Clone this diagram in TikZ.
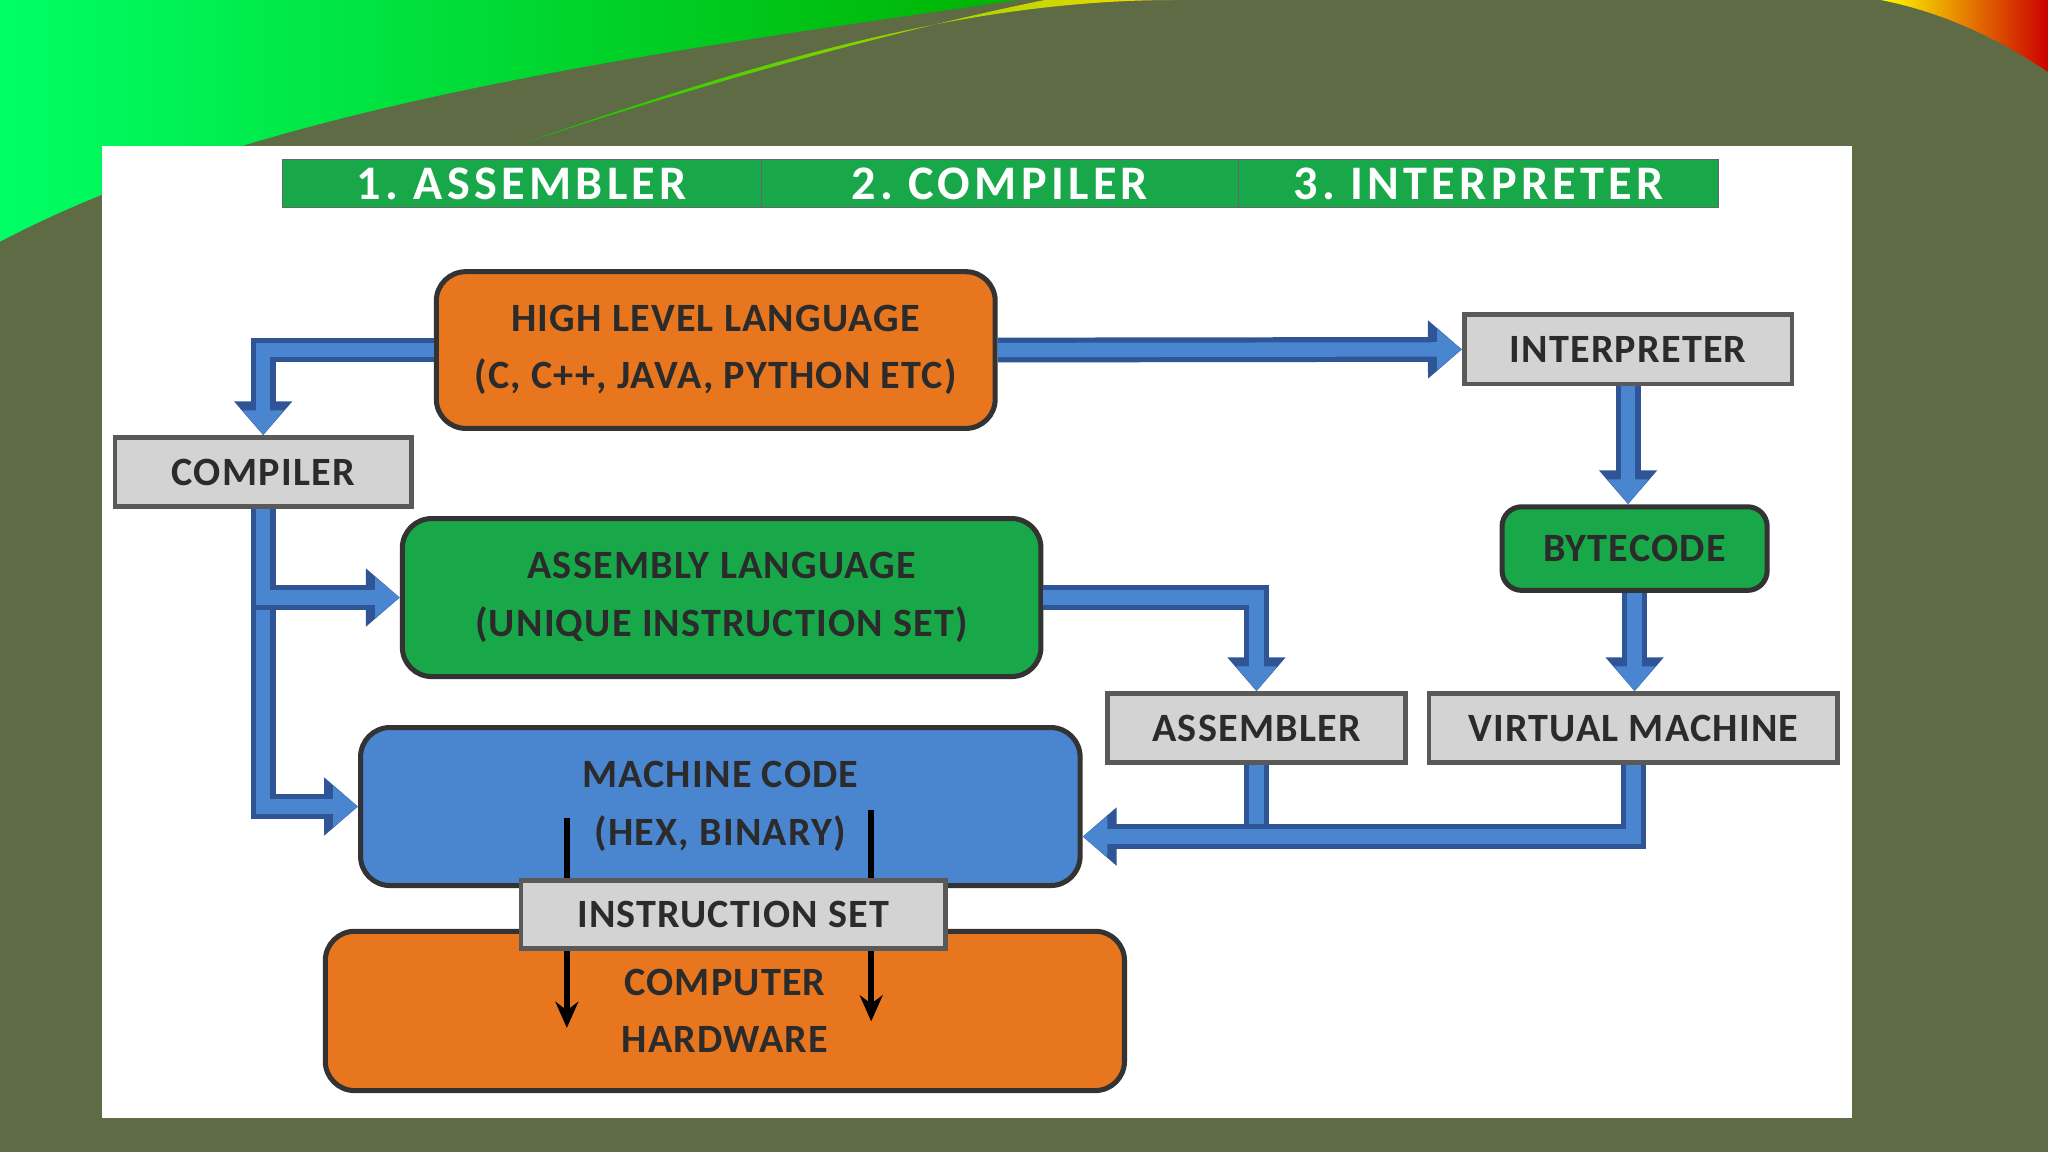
\documentclass[tikz,border=0pt]{standalone}
\usepackage{fontspec}
\setmainfont{Carlito}
\usetikzlibrary{arrows.meta,calc}
\definecolor{bg}{HTML}{5E6B45}
\definecolor{hgreen}{HTML}{18A84A}
\definecolor{orng}{HTML}{E8761F}
\definecolor{bblue}{HTML}{4A86D0}
\definecolor{darkb}{HTML}{2F5597}
\definecolor{gbox}{HTML}{D3D3D3}
\definecolor{txt}{HTML}{2B2B2B}
\tikzset{
  box/.style={draw=black!80,line width=2.2pt,rounded corners=0.45cm,text=txt,align=center,font=\fontsize{17.5}{25}\selectfont\bfseries\addfontfeature{LetterSpace=3}},
  gray/.style={draw=black!65,line width=2pt,fill=gbox,text=txt,font=\fontsize{17.5}{20}\selectfont\bfseries\addfontfeature{LetterSpace=3}},
  outer/.style={draw=darkb,line width=0.38cm,-{Triangle[width=0.86cm,length=0.52cm]}},
  inner/.style={draw=bblue,line width=0.22cm,-{Triangle[width=0.6cm,length=0.38cm]}},
  thin/.style={draw=black,line width=2.4pt,-{Stealth[width=0.35cm,length=0.4cm]}},
  hdr/.style={text=white,font=\fontsize{21}{21}\selectfont\bfseries\addfontfeature{LetterSpace=9}}
}
\newcommand{\blockarrow}[1]{\draw[outer] #1; \draw[inner] #1;}
\begin{document}
\begin{tikzpicture}[x=0.02cm,y=-0.02cm]
\useasboundingbox (0,0) rectangle (1568,882);
\fill[bg] (0,0) rectangle (1568,882);
% top decoration
\shade[left color=green!60!cyan, right color=green!70!black] (0,0) -- (780,0) .. controls (500,40) and (200,80) .. (0,185) -- cycle;
\shade[left color=green!80!black, right color=yellow!70!orange] (400,110) .. controls (600,40) and (750,0) .. (900,0) -- (800,0) .. controls (700,20) and (550,60) .. cycle;
\shade[left color=yellow, right color=red!80!black] (1440,0) -- (1568,0) -- (1568,55) .. controls (1530,30) and (1490,10) .. (1440,0) -- cycle;
% panel
\fill[white] (78,112) rectangle (1418,856);
% header
\node[draw=black!60,fill=hgreen,minimum width=7.34cm,minimum height=0.74cm,hdr,inner sep=0] (h1) at (399.5,140.5) {1.\ ASSEMBLER};
\node[draw=black!60,fill=hgreen,minimum width=7.3cm,minimum height=0.74cm,hdr,inner sep=0] (h2) at (765.5,140.5) {2.\ COMPILER};
\node[draw=black!60,fill=hgreen,minimum width=7.36cm,minimum height=0.74cm,hdr,inner sep=0] (h3) at (1132,140.5) {3.\ INTERPRETER};
% nodes
\node[box,fill=orng,minimum width=8.56cm,minimum height=2.4cm] (hll) at (548,268) {HIGH LEVEL LANGUAGE\\(C, C++, JAVA, PYTHON ETC)};
\node[gray,minimum width=5.02cm,minimum height=1.06cm] (interp) at (1246.5,267.5) {INTERPRETER};
\node[gray,minimum width=4.54cm,minimum height=1.06cm] (comp) at (201.5,361.5) {COMPILER};
\node[box,fill=hgreen,minimum width=9.78cm,minimum height=2.42cm] (asm) at (552.5,457.5) {ASSEMBLY LANGUAGE\\(UNIQUE INSTRUCTION SET)};
\node[box,fill=hgreen,minimum width=4.06cm,minimum height=1.28cm,rounded corners=0.3cm] (byte) at (1251.5,420) {BYTECODE};
\node[gray,minimum width=4.56cm,minimum height=1.06cm] (assembler) at (962,557.5) {ASSEMBLER};
\node[gray,minimum width=6.26cm,minimum height=1.06cm] (vm) at (1250.5,557.5) {VIRTUAL MACHINE};
\node[box,fill=bblue,minimum width=11.02cm,minimum height=2.42cm] (mc) at (551.5,617.5) {MACHINE CODE\\(HEX, BINARY)};
\node[box,fill=orng,minimum width=12.24cm,minimum height=2.44cm] (hw) at (555,774) {COMPUTER\\HARDWARE};
% thin arrows
\coordinate (a1) at (434,626); \coordinate (b1) at (434,787);
\coordinate (a2) at (667,620); \coordinate (b2) at (667,782);
\draw[thin] (a1) -- (b1);
\draw[thin] (a2) -- (b2);
\node[gray,minimum width=6.5cm,minimum height=1.04cm] (inst) at (561.5,700) {INSTRUCTION SET};
% block arrows
\coordinate (j) at ($(mc.east)+(0,23)$);
\draw[darkb,line width=0.38cm] (assembler.south) -- (assembler.south |- j);
\draw[bblue,line width=0.22cm] (assembler.south) -- (assembler.south |- j);
\blockarrow{(hll.west) -| (comp.north)}
\blockarrow{(hll.east) -- (interp.west)}
\blockarrow{(interp.south) -- (interp.south |- byte.north)}
\blockarrow{(byte.south) -- (byte.south |- vm.north)}
\blockarrow{(comp.south) |- (mc.west)}
\blockarrow{(comp.south) |- (asm.west)}
\blockarrow{(asm.east) -| (assembler.north)}
\blockarrow{(vm.south) |- (j)}
\end{tikzpicture}
\end{document}
